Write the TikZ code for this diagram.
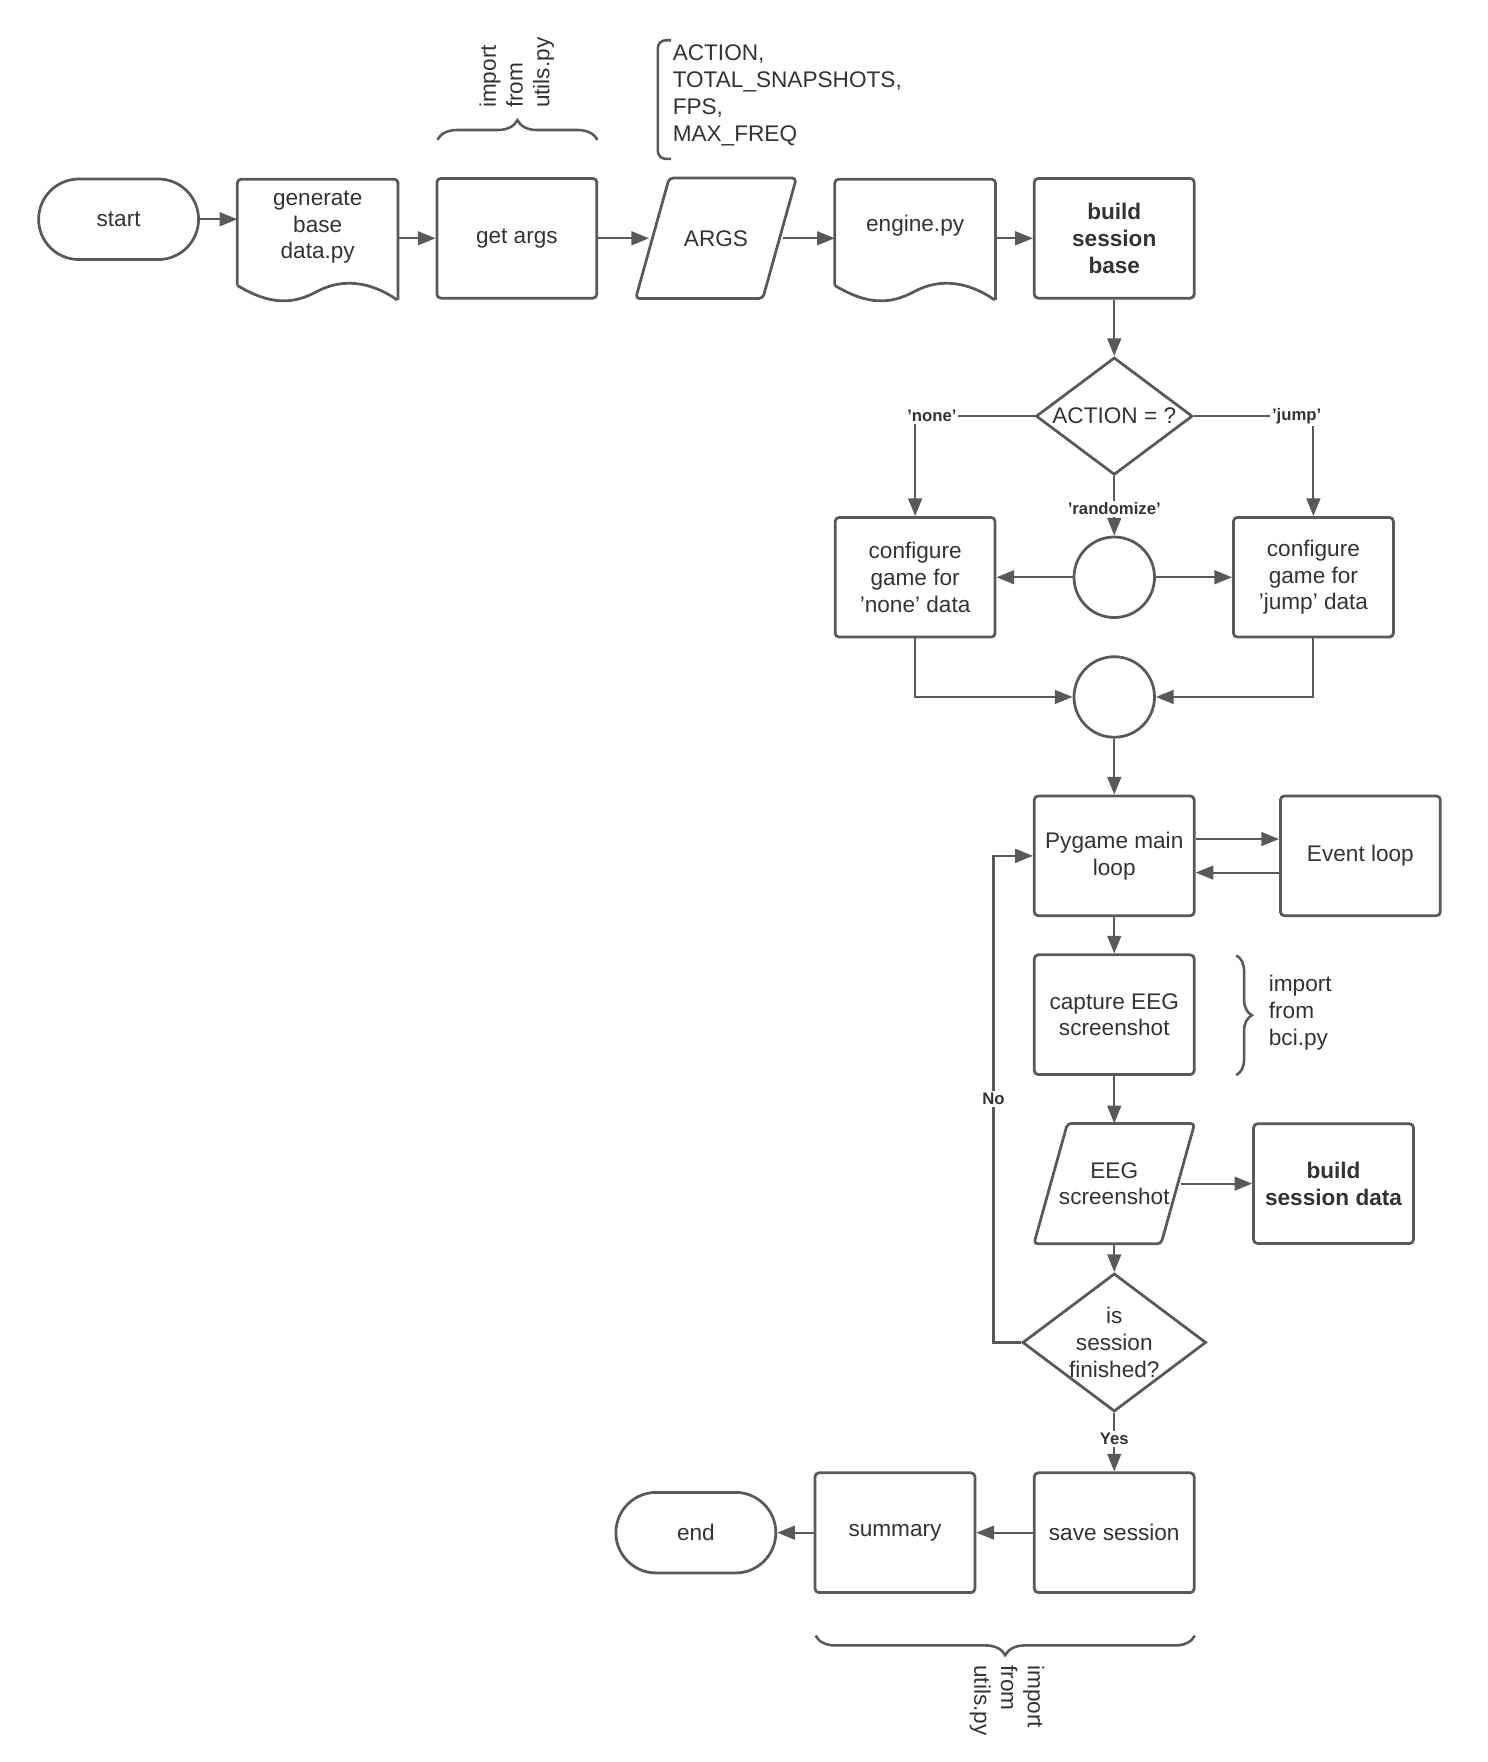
\documentclass[tikz,border=0pt]{standalone}
\usepackage{fontspec}
\setmainfont{Liberation Sans}
\usetikzlibrary{shapes.geometric,arrows.meta,calc,decorations.pathreplacing}
\definecolor{ln}{HTML}{595959}
\definecolor{tx}{HTML}{333333}
\begin{document}
\begin{tikzpicture}[x=0.02cm,y=-0.02cm,
  every node/.style={text=tx,font=\fontsize{11.5}{13.6}\selectfont,align=center},
  box/.style={draw=ln,line width=1.4pt,rounded corners=2pt,minimum width=2.86cm,minimum height=2.14cm,inner sep=2pt},
  bare/.style={minimum width=2.86cm,minimum height=2.14cm,inner sep=2pt},
  term/.style={draw=ln,line width=1.4pt,rounded corners=0.72cm,minimum width=2.86cm,minimum height=1.44cm},
  dia/.style={draw=ln,line width=1.4pt,diamond,minimum width=2.8cm,minimum height=2.1cm,inner sep=0pt,aspect=1.33},
  circ/.style={draw=ln,line width=1.4pt,circle,minimum size=1.44cm},
  lab/.style={font=\fontsize{8.5}{10}\selectfont\bfseries,fill=white,inner sep=1pt},
  ar/.style={draw=ln,line width=1.1pt,-{Triangle[length=9pt,width=7pt]}},
  sh/.style={draw=ln,line width=1.4pt,line join=round}]
\useasboundingbox (0,0) rectangle (1330,1575);
% nodes
\node[term] (start) at (106,196) {start};
\node[bare] (gen) at (284,214) {};
\node[text=tx] (gent) at (284,203) {generate\\base\\data.py};
\node[box] (args) at (462,213) {get args};
\node[bare] (argsp) at (640,213) {ARGS};
\node[bare] (eng) at (818,214) {};
\node (engt) at (818,202) {engine.py};
\node[box,font=\fontsize{11.5}{13.6}\selectfont\bfseries] (build) at (996,213) {build\\session\\base};
\node[dia] (act) at (996,372) {ACTION = ?};
\node[circ] (c1) at (996,516) {};
\node[box] (none) at (818,516) {configure\\game for\\'none' data};
\node[box] (jump) at (1174,516) {configure\\game for\\'jump' data};
\node[circ] (c2) at (996,623) {};
\node[box] (pg) at (996,765) {Pygame main\\loop};
\node[box] (ev) at (1216,765) {Event loop};
\node[box] (cap) at (996,907) {capture EEG\\screenshot};
\node[bare] (eeg) at (996,1058) {EEG\\screenshot};
\node[box,font=\fontsize{11.5}{13.6}\selectfont\bfseries] (bsd) at (1192,1058) {build\\session data};
\node[dia] (fin) at (996,1200) {is\\session\\finished?};
\node[box] (save) at (996,1370) {save session};
\node[box] (sum) at (800,1370) {summary};
\node[term] (end) at (622,1370) {end};
% document shapes
\foreach \n in {gen,eng}{
  \draw[sh,rounded corners=2pt] ($(\n.north west)+(0,95)$) -- (\n.north west) -- (\n.north east) -- ($(\n.north east)+(0,108)$);
  \draw[sh] ($(\n.north west)+(0,95)$) .. controls ($(\n.north west)+(30,113)$) and ($(\n.north west)+(50,112)$) .. ($(\n.north west)+(72,100)$)
     .. controls ($(\n.north west)+(95,88)$) and ($(\n.north west)+(120,92)$) .. ($(\n.north west)+(143,108)$);
}
% parallelograms
\foreach \n in {argsp,eeg}{
  \draw[sh,rounded corners=2pt] ($(\n.north west)+(30,0)$) -- ($(\n.north east)+(0,0)$) -- ($(\n.south east)+(-30,0)$) -- (\n.south west) -- cycle;
}
% edges
\draw[ar] (start) -- (gen.west|-start);
\draw[ar] (gen.east|-args) -- (args);
\draw[ar] (args) -- ($(argsp.west)+(12,0)$);
\draw[ar] ($(argsp.east)+(-12,0)$) -- (eng.west|-argsp);
\draw[ar] (eng.east|-build) -- (build);
\draw[ar] (build) -- (act);
\draw[ar] (act.west) -- (818,372) node[lab,pos=0.86]{'none'} -- (none);
\draw[ar] (act.east) -- (1174,372) node[lab,pos=0.86]{'jump'} -- (jump);
\draw[ar] (act) -- node[lab,pos=0.55]{'randomize'} (c1);
\draw[ar] (c1) -- (none);
\draw[ar] (c1) -- (jump);
\draw[ar] (none.south) -- (818,623) -- (c2);
\draw[ar] (jump.south) -- (1174,623) -- (c2);
\draw[ar] (c2) -- (pg);
\draw[ar] ($(pg.east)+(0,-15)$) -- ($(ev.west)+(0,-15)$);
\draw[ar] ($(ev.west)+(0,15)$) -- ($(pg.east)+(0,15)$);
\draw[ar] (pg) -- (cap);
\draw[ar] (cap) -- (eeg);
\draw[ar] ($(eeg.east)+(-12,0)$) -- (bsd);
\draw[ar] (eeg) -- (fin);
\draw[ar] (fin.west) -- (888,1200) -- node[lab,pos=0.5]{No} (888,765) -- (pg.west);
\draw[ar] (fin) -- node[lab,pos=0.45]{Yes} (save);
\draw[ar] (save) -- (sum);
\draw[ar] (sum) -- (end);
% annotations
\draw[ln,line width=1.3pt,decorate,decoration={brace,amplitude=10pt}] (391,125) -- (534,125);
\node[rotate=90,align=left,anchor=center] (t1) at (462,65) {import\\from\\utils.py};
\draw[ln,line width=1.3pt,rounded corners=4pt] (600,36) -- (588,36) -- (588,142) -- (600,142);
\node[align=left,anchor=north west,inner sep=0pt] (t2) at (601,40) {ACTION,\\TOTAL\_SNAPSHOTS,\\FPS,\\MAX\_FREQ};
\draw[ln,line width=1.3pt,decorate,decoration={brace,amplitude=8pt}] (1105,854) -- (1105,961);
\node[align=left,anchor=west] (t3) at (1128,905) {import\\from\\bci.py};
\draw[ln,line width=1.3pt,decorate,decoration={brace,amplitude=10pt}] (1068,1462) -- (729,1462);
\node[rotate=-90,align=left] (t4) at (900,1520) {import\\from\\utils.py};
\end{tikzpicture}
\end{document}
